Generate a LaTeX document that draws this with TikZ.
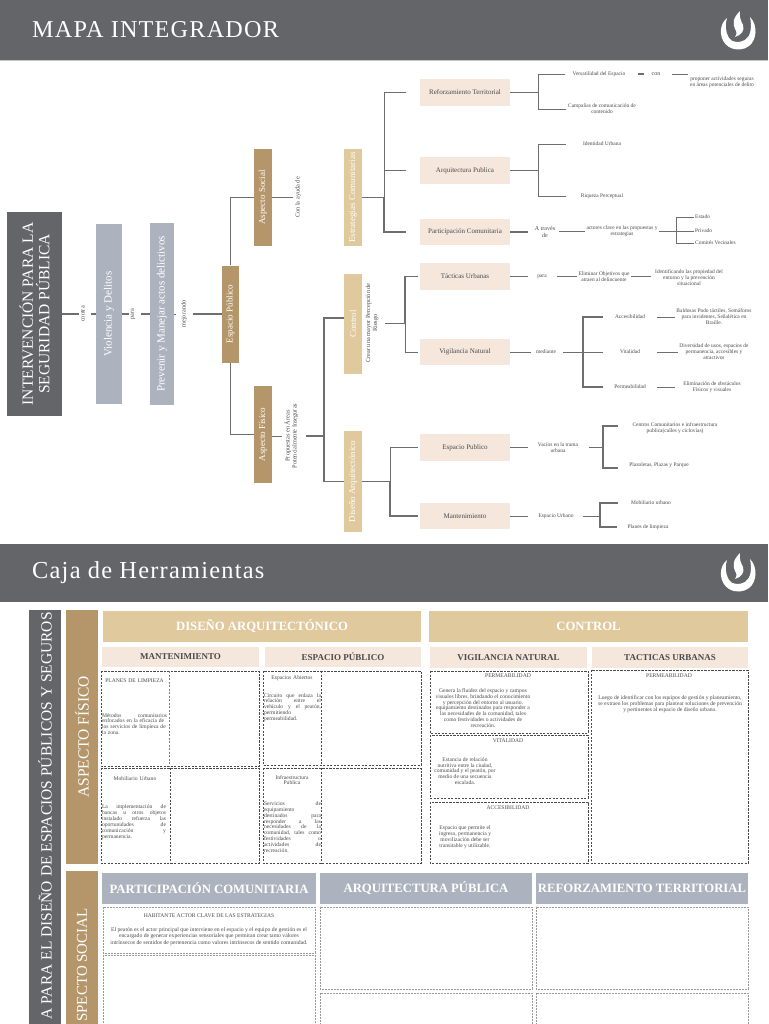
\documentclass[tikz,border=0pt]{standalone}
\usepackage{fontspec}
\setmainfont{Liberation Serif}
\newfontfamily\letraabierta[LetterSpace=5]{Liberation Serif}
\usetikzlibrary{calc}

\definecolor{grisosc}{HTML}{636569}
\definecolor{grisazul}{HTML}{ADB3BE}
\definecolor{tostado}{HTML}{B5966A}
\definecolor{arena}{HTML}{DFC99D}
\definecolor{crema}{HTML}{F5E7DB}
\definecolor{linea}{HTML}{6D6E71}
\definecolor{letra}{HTML}{4A4A4C}

\tikzset{
  caja/.style={inner sep=0pt, align=center, text=white},
  vcaja/.style={caja, rotate=90},
  hcaja/.style={caja, fill=crema, text=letra, minimum width=90, minimum height=26.5, font=\fontsize{7}{8}\selectfont},
  nota/.style={inner sep=1.5pt, align=center, text=letra, font=\fontsize{5.45}{6}\selectfont},
  vnota/.style={nota, rotate=90, font=\fontsize{6.3}{7}\selectfont},
  enlace/.style={draw=linea, line width=0.9pt},
  enlaceb/.style={draw=linea, line width=1.6pt},
  celda/.style={draw=letra, line width=0.8pt, dash pattern=on 2.2pt off 1.3pt},
  celdab/.style={draw=gray!80, line width=0.6pt, dash pattern=on 1.8pt off 1.2pt},
  titulo/.style={inner sep=0pt, align=center, text=white, font=\bfseries\fontsize{12.7}{14}\selectfont},
  subtit/.style={fill=crema, inner sep=0pt, text=letra, font=\bfseries\fontsize{9}{10}\selectfont},
  columna/.style={rotate=90, inner sep=0pt, text=white, font=\fontsize{15.5}{17}\selectfont},
  txt/.style={inner sep=0pt, align=center, text=letra, font=\fontsize{5.6}{5.9}\selectfont},
  txtj/.style={txt, align=left},
}

% logo
\newcommand{\logoupc}[2]{%
  \fill[white, shift={(#1,#2)}] (-11,-15) .. controls (-20,-8) and (-19,8) .. (-9,14)
    .. controls (-2,18) and (6,17) .. (11,13) .. controls (19,7) and (20,-8) .. (12,-16)
    .. controls (14,-6) and (13,3) .. (7,7) .. controls (2,10) and (-6,10) .. (-9,5)
    .. controls (-13,-2) and (-13,-9) .. (-11,-15) -- cycle;
  \fill[white, shift={(#1,#2)}] (2,-22) .. controls (-6,-14) and (-5,-9) .. (-3,-4)
    .. controls (-1,-1) and (-1,1) .. (-3,4) .. controls (3,2) and (7,-2) .. (5,-8)
    .. controls (3,-12) and (1,-16) .. (2,-22) -- cycle;
}

\begin{document}
\begin{tikzpicture}[x=1pt, y=-1pt]
  \useasboundingbox (0,0) rectangle (768,1024);
  \clip (0,0) rectangle (768,1024);
  \fill[white] (0,0) rectangle (768,1024);

  % bandas de titulo
  \fill[grisosc] (0,0) rectangle (768,60);
  \fill[gray!45] (0,60) rectangle (768,61);
  \fill[grisosc] (0,544) rectangle (768,602);
  \node[anchor=west, inner sep=0pt, text=white, font=\letraabierta\fontsize{24.2}{26}\selectfont] (tit1) at (32,30) {MAPA INTEGRADOR};
  \node[anchor=west, inner sep=0pt, text=white, font=\letraabierta\fontsize{24.4}{26}\selectfont] (tit2) at (32,573) {Caja de Herramientas};
  \logoupc{738}{33}
  \logoupc{738}{575}

  % columna principal
  \node[vcaja, fill=grisosc, minimum width=204, minimum height=55, font=\fontsize{15.5}{16.5}\selectfont] (intervencion) at (34.5,314) {INTERVENCIÓN PARA LA\\SEGURIDAD PÚBLICA};
  \node[vnota] (contra) at (83,314) {contra};
  \node[vcaja, fill=grisazul, minimum width=179, minimum height=26, font=\fontsize{11}{12}\selectfont] (violencia) at (109,314) {Violencia y Delitos};
  \node[vnota] (para1) at (133,314) {para};
  \node[vcaja, fill=grisazul, minimum width=181, minimum height=24, font=\fontsize{11}{12}\selectfont] (prevenir) at (162,314) {Prevenir y Manejar actos delictivos};
  \node[vnota] (mejorando) at (184,314) {mejorando};
  \node[vcaja, fill=tostado, minimum width=97, minimum height=17, font=\fontsize{9}{10}\selectfont] (espacio) at (230.5,314) {Espacio Público};
  \draw[enlaceb] (intervencion) -- (contra);
  \draw[enlaceb, shorten <=4pt] (contra) -- (violencia);
  \draw[enlaceb] (violencia) -- (para1);
  \draw[enlaceb, shorten <=4pt] (para1) -- (prevenir);
  \draw[enlace, shorten >=3pt] (prevenir) -- (mejorando);
  \draw[enlaceb, shorten <=4pt] (mejorando) -- (espacio);

  % aspectos
  \node[vcaja, fill=tostado, minimum width=97, minimum height=18, font=\fontsize{9}{10}\selectfont] (social) at (263,197.5) {Aspecto Social};
  \node[vcaja, fill=tostado, minimum width=97, minimum height=18, font=\fontsize{9}{10}\selectfont] (fisico) at (263,434.5) {Aspecto Físico};
  \node[vnota] (ayuda) at (298,197.5) {Con la ayuda de};
  \node[vnota] (propuestas) at (291,436) {Propuestas en Áreas\\Potencialmente Inseguras};
  \draw[enlaceb] (espacio.east) |- (social.north);
  \draw[enlaceb] (espacio.west) |- (fisico.north);
  \draw[enlace] (social) -- (ayuda);
  \draw[enlace] (fisico.south |- propuestas) -- (propuestas);

  % estrategias, control, diseno
  \node[vcaja, fill=arena, minimum width=97, minimum height=18, font=\fontsize{9}{10}\selectfont] (estrategias) at (353,197.5) {Estrategias Comunitarias};
  \node[vcaja, fill=arena, minimum width=100, minimum height=18, font=\fontsize{9}{10}\selectfont] (control) at (353,324) {Control};
  \node[vcaja, fill=arena, minimum width=101, minimum height=18, font=\fontsize{9}{10}\selectfont] (diseno) at (353,481.5) {Diseño Arquitectónico};
  \node[vnota] (percepcion) at (372,323) {Crear una mayor Percepción de\\Riesgo};
  \coordinate (unionfis) at (324,436);
  \draw[enlaceb, shorten <=6.5pt] (propuestas) -- (unionfis);
  \draw[enlaceb] (control.north |- 0,318) -| (unionfis);
  \draw[enlaceb] (diseno.north) -| (unionfis);

  % cajas claras
  \node[hcaja] (reforzamiento) at (465,92.5) {Reforzamiento Territorial};
  \node[hcaja] (arquitectura) at (465,170.5) {Arquitectura Publica};
  \node[hcaja] (participacion) at (465,232) {Participación  Comunitaria};
  \node[hcaja] (tacticas) at (465,276.5) {Tácticas Urbanas};
  \node[hcaja] (vigilancia) at (465,352) {Vigilancia Natural};
  \node[hcaja] (esppublico) at (465,447.5) {Espacio Publico};
  \node[hcaja] (mantenimiento) at (465,516) {Mantenimiento};

  \coordinate (unionest) at (384,197.5);
  \draw[enlace] (estrategias) -- (unionest);
  \draw[enlace, shorten <=14pt] (reforzamiento.west) -| (unionest);
  \draw[enlace, shorten <=14pt] (arquitectura.west) -| (unionest);
  \draw[enlaceb, shorten <=14pt] (participacion.west) -| (unionest);
  \coordinate (unionctl) at (405,323);
  \draw[enlace, shorten <=5pt] (percepcion) -- (unionctl);
  \draw[enlaceb, shorten <=2pt] (tacticas.west) -| (unionctl);
  \draw[enlace, shorten <=2pt] (vigilancia.west) -| (unionctl);
  \coordinate (uniondis) at (390,481.5);
  \draw[enlaceb] (diseno) -- (uniondis);
  \draw[enlace, shorten <=2pt] (esppublico.west) -| (uniondis);
  \draw[enlaceb, shorten <=2pt] (mantenimiento.west) -| (uniondis);

  % reforzamiento
  \node[nota] (versatilidad) at (599,74) {Versatilidad del Espacio};
  \node[nota, font=\fontsize{6}{7}\selectfont] (con) at (656,74) {con};
  \node[nota] (proponer) at (722,82) {proponer actividades seguras\\en áreas potenciales de delito};
  \node[nota] (campanas) at (602,109) {Campañas de comunicación de\\contenido};
  \coordinate (unionref) at (538,92.5);
  \draw[enlace] (reforzamiento) -- (unionref);
  \draw[enlace, shorten <=5.5pt] (versatilidad) -| (unionref);
  \draw[enlace] (campanas) -| (unionref);
  \draw[enlaceb, shorten <=10.5pt, shorten >=6pt] (versatilidad) -- (con);
  \draw[enlace, shorten <=10pt] (con) -- (con -| proponer.west);

  % arquitectura
  \node[nota] (identidad) at (602,144) {Identidad Urbana};
  \node[nota] (riqueza) at (602,196) {Riqueza Perceptual};
  \coordinate (unionarq) at (538,170.5);
  \draw[enlace] (arquitectura) -- (unionarq);
  \draw[enlace, shorten <=15.5pt] (identidad) -| (unionarq);
  \draw[enlace, shorten <=13.5pt] (riqueza) -| (unionarq);

  % participacion
  \node[nota, font=\fontsize{6}{7}\selectfont] (atraves) at (545,231.5) {A través\\de};
  \node[nota] (actores) at (622,231.5) {actores clave en las propuestas y\\estrategias};
  \node[nota, anchor=west] (estado) at (693.5,217) {Estado};
  \node[nota, anchor=west] (privado) at (693.5,231) {Privado};
  \node[nota, anchor=west] (comites) at (693.5,243) {Comités Vecinales};
  \coordinate (unionact) at (676,231);
  \draw[enlaceb, shorten >=5pt] (participacion) -- (participacion -| atraves.west);
  \draw[enlace, shorten <=2.5pt] (atraves) -- (actores);
  \draw[enlace] (actores.east |- unionact) -- (unionact);
  \draw[enlace] (estado) -| (unionact);
  \draw[enlace] (privado) -- (unionact);
  \draw[enlace] (comites) -| (unionact);

  % tacticas
  \node[nota, font=\fontsize{5.5}{6.5}\selectfont] (para2) at (542,276.5) {para};
  \node[nota] (eliminar) at (604,276.5) {Eliminar Objetivos que\\atraen al delincuente};
  \node[nota] (identificando) at (689,278) {Identificando las propiedad del\\entorno y la prevención\\situacional};
  \draw[enlace, shorten >=7.5pt] (tacticas) -- (para2);
  \draw[enlace, shorten <=8.5pt] (para2) -- (eliminar);
  \draw[enlace, shorten >=2.5pt] (eliminar) -- (eliminar -| identificando.west);

  % vigilancia
  \node[nota] (mediante) at (546,352) {mediante};
  \node[nota] (accesibilidad) at (630,317) {Accesibilidad};
  \node[nota] (vitalidad) at (630,352) {Vitalidad};
  \node[nota] (permeabilidad) at (630,387) {Permeabilidad};
  \node[nota] (baldosas) at (714,317) {Baldosas Podo táctiles, Semáforos\\para invidentes, Señalética en\\Braille.};
  \node[nota] (diversidad) at (714,352) {Diversidad de usos, espacios de\\permanencia, accesibles y\\atractivos};
  \node[nota] (obstaculos) at (712,387) {Eliminación de obstáculos\\Físicos y visuales};
  \coordinate (unionvig) at (583,352);
  \draw[enlace, shorten >=3.5pt] (vigilancia) -- (mediante);
  \draw[enlace, shorten <=5.5pt] (mediante) -- (unionvig);
  \draw[enlaceb, shorten <=10.5pt] (accesibilidad) -| (unionvig);
  \draw[enlace, shorten <=15.5pt] (vitalidad) -- (unionvig);
  \draw[enlaceb, shorten <=9.5pt] (permeabilidad) -| (unionvig);
  \draw[enlace, shorten <=10.5pt] (accesibilidad) -- (baldosas);
  \draw[enlace, shorten <=15.5pt] (vitalidad) -- (diversidad);
  \draw[enlace, shorten <=9.5pt, shorten >=6.5pt] (permeabilidad) -- (obstaculos);

  % espacio publico
  \node[nota] (vacios) at (558,447.5) {Vacíos en la trama\\urbana};
  \node[nota] (centros) at (675,428) {Centros Comunitarios e infraestructura\\publica(calles y ciclovías)};
  \node[nota] (plazoletas) at (659,465) {Plazoletas, Plazas y Parque};
  \coordinate (unionesp) at (603,447.5);
  \draw[enlaceb, shorten >=8.5pt] (esppublico) -- (vacios);
  \draw[enlace, shorten <=9.5pt] (vacios) -- (unionesp);
  \draw[enlaceb, shorten <=12.5pt] (centros.west |- 0,426) -| (unionesp);
  \draw[enlaceb, shorten <=9.5pt] (plazoletas.west |- 0,468) -| (unionesp);

  % mantenimiento
  \node[nota] (urbano) at (556,516) {Espacio Urbano};
  \node[nota] (mobiliario) at (651,503) {Mobiliario urbano};
  \node[nota] (limpieza) at (648,527) {Planes de limpieza};
  \coordinate (unionman) at (600,516);
  \draw[enlace, shorten >=8.5pt] (mantenimiento) -- (urbano);
  \draw[enlace, shorten <=7.5pt] (urbano) -- (unionman);
  \draw[enlaceb, shorten <=11.5pt] (mobiliario) -| (unionman);
  \draw[enlaceb, shorten <=8.5pt] (limpieza) -| (unionman);

  % caja de herramientas, columnas
  \fill[grisosc] (29,610) rectangle (61,1024);
  \node[columna, anchor=east] (cajatit) at (45,612) {A PARA EL DISEÑO DE ESPACIOS PÚBLICOS Y SEGUROS};
  \fill[tostado] (66,610) rectangle (98,864);
  \node[columna] (fisicotit) at (82,737) {ASPECTO FÍSICO};
  \fill[tostado] (66,871) rectangle (98,1024);
  \node[columna, anchor=east, font=\fontsize{15}{17}\selectfont] (socialtit) at (82,908) {SPECTO SOCIAL};

  % encabezados
  \fill[arena] (103,611) rectangle (421,642);
  \fill[arena] (429,611) rectangle (748,642);
  \node[titulo] (disenotit) at (262,626.5) {DISEÑO ARQUITECTÓNICO};
  \node[titulo] (controltit) at (588.5,626.5) {CONTROL};
  \node[subtit, minimum width=157, minimum height=20] (manttit) at (180.5,657) {MANTENIMIENTO};
  \node[subtit, minimum width=156, minimum height=20] (esptit) at (343,657) {ESPACIO PÚBLICO};
  \node[subtit, minimum width=157, minimum height=21] (vigtit) at (508.5,657.5) {VIGILANCIA NATURAL};
  \node[subtit, minimum width=156, minimum height=21] (tactit) at (670,657.5) {TACTICAS URBANAS};

  % celdas de diseno
  \draw[celda] (101,671) rectangle (259,766);
  \draw[celda, draw=gray] (169,671) -- (169,766);
  \draw[celda] (101,768) rectangle (259,863);
  \draw[celda] (170,768) -- (170,863);
  \draw[celda] (263,671) rectangle (421,765);
  \draw[celda] (321,671) -- (321,765);
  \draw[celda] (263,768) rectangle (421,863);
  \draw[celda] (321,768) -- (321,863);

  \node[txt, text width=64] (limp1) at (134.5,681) {PLANES DE LIMPIEZA};
  \node[txtj, text width=65] (limp2) at (134.5,724) {Métodos \hfill comunitarios\\enfocados en la eficacia de\\los servicios de limpieza de\\la zona.};
  \node[txt, text width=62] (mob1) at (135,779) {Mobiliario Urbano};
  \node[txtj, text width=64] (mob2) at (134,822) {La \hfill implementación \hfill de\\bancas \hfill u \hfill otros \hfill objetos\\instalado \hfill refuerza \hfill las\\oportunidades \hfill de\\comunicación \hfill y\\permanencia.};
  \node[txt, text width=56] (abi1) at (292,678) {Espacios Abiertos};
  \node[txtj, text width=57] (abi2) at (292.5,707.5) {Circuito \hfill que \hfill enlaza \hfill la\\relación \hfill entre \hfill el\\vehículo \hfill y \hfill el \hfill peatón,\\permitiendo\\permeabilidad.};
  \node[txt, text width=56] (inf1) at (292,780) {Infraestructura\\Publica};
  \node[txtj, text width=57] (inf2) at (292.5,827) {Servicios \hfill de\\equipamiento\\destinados \hfill para\\responder \hfill a \hfill las\\necesidades \hfill de \hfill la\\comunidad, \hfill tales \hfill como\\festividades \hfill o\\actividades \hfill de\\recreación.};

  % celdas de control
  \draw[celda] (430,671) rectangle (588,733);
  \draw[celda] (430,735) rectangle (588,798);
  \draw[celda] (430,802) rectangle (588,863);
  \draw[celda] (591,670) rectangle (748,863);

  \node[txt] (per1) at (508,676) {PERMEABILIDAD};
  \node[txt] (per2) at (483,708) {Genera la fluidez del espacio y campos\\visuales libres, brindando el conocimiento\\y percepción del entorno al usuario.\\equipamiento destinados para responder a\\las necesidades de la comunidad, tales\\como festividades o actividades de\\recreación.};
  \node[txt] (vit1) at (508,741) {VITALIDAD};
  \node[txt] (vit2) at (465,771) {Estancia de relación\\nutritiva entre la ciudad,\\comunidad y el peatón, por\\medio de una secuencia\\escalada.};
  \node[txt] (acc1) at (508,808) {ACCESIBILIDAD};
  \node[txt] (acc2) at (465,837) {Espacio que permite el\\ingreso, permanencia y\\movilización debe ser\\transitable y utilizable.};
  \node[txt] (tac1) at (669,676) {PERMEABILIDAD};
  \node[txt] (tac2) at (670,704) {Luego de identificar con los equipos de gestión y planeamiento,\\se extraen los problemas para plantear soluciones de prevención\\y  pertinentes al espacio de diseño urbano.};

  % aspecto social
  \fill[grisazul] (102,873) rectangle (316,904);
  \fill[grisazul] (320,873) rectangle (532,904);
  \fill[grisazul] (536,873) rectangle (748,904);
  \node[titulo] (parttit) at (209,888.5) {PARTICIPACIÓN COMUNITARIA};
  \node[titulo] (arqtit) at (426,888.5) {ARQUITECTURA PÚBLICA};
  \node[titulo] (reftit) at (642,888.5) {REFORZAMIENTO TERRITORIAL};
  \draw[celdab] (103,907) rectangle (315,953);
  \draw[celdab] (103,955) rectangle (315,1030);
  \draw[celdab] (320,907) rectangle (532,989);
  \draw[celdab] (536,907) rectangle (748,989);
  \draw[celdab] (320,993) rectangle (532,1030);
  \draw[celdab] (536,993) rectangle (748,1030);
  \node[txt] (hab1) at (209,916) {HABITANTE ACTOR CLAVE DE LAS ESTRATEGIAS};
  \node[txt, font=\fontsize{5.7}{6.5}\selectfont] (hab2) at (209,936.5) {El peatón es el actor principal que interviene en el espacio y el equipo de gestión es el\\encargado de generar experiencias sensoriales que permitan crear tanto valores\\intrínsecos de sentidos de pertenencia como valores intrínsecos de sentido comunidad.};
\end{tikzpicture}
\end{document}
